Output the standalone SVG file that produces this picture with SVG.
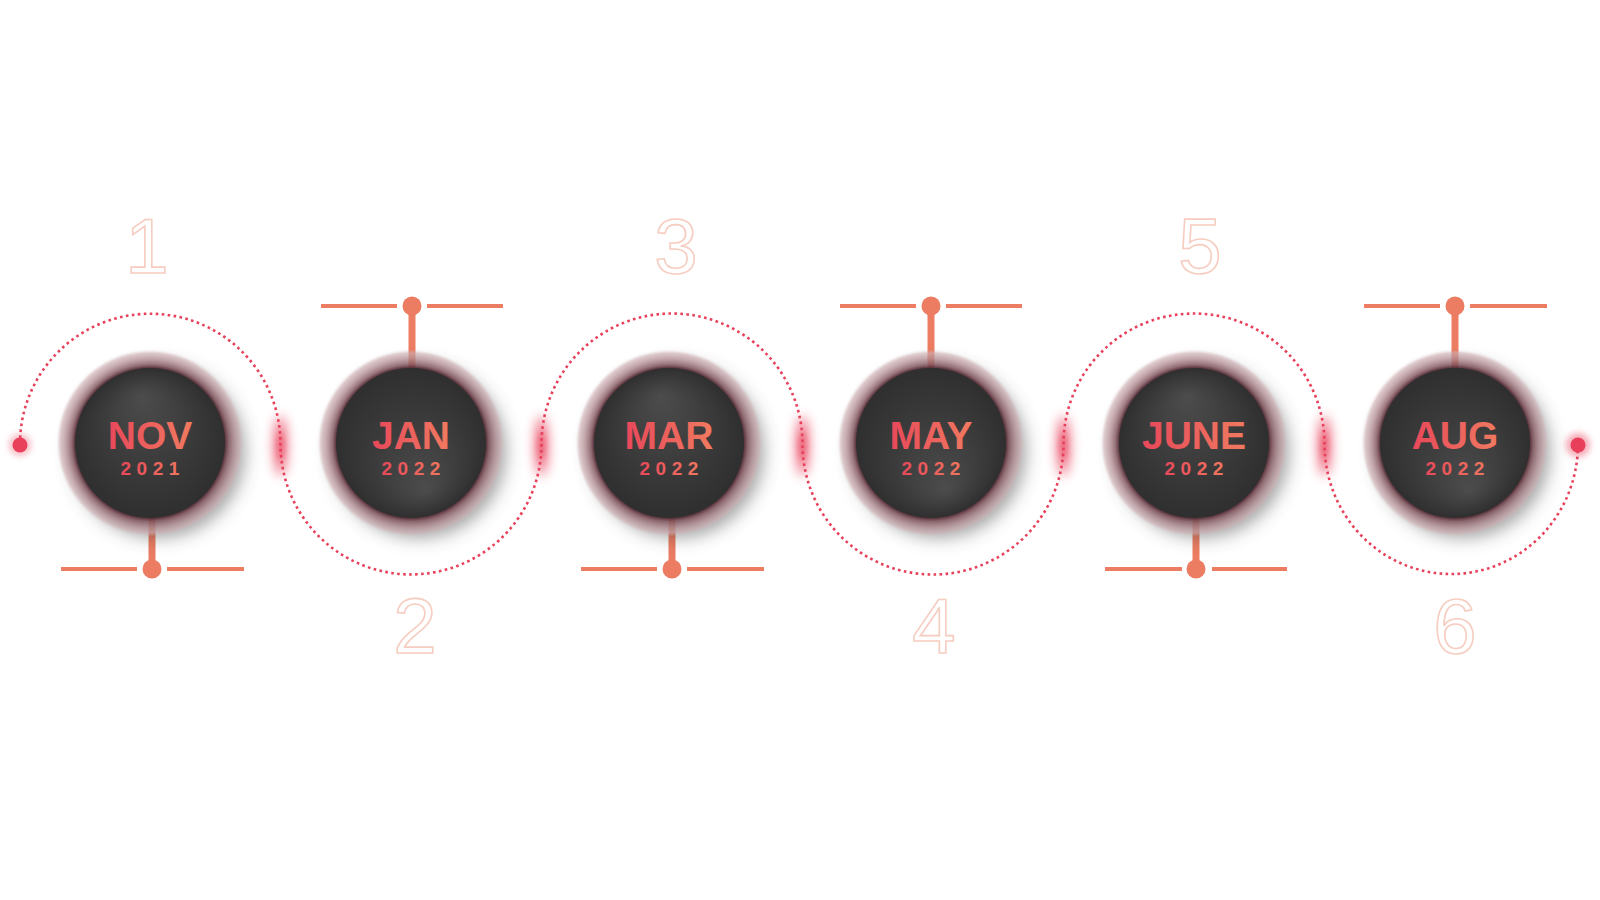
<svg xmlns="http://www.w3.org/2000/svg" width="1600" height="900" viewBox="0 0 1600 900">
  <defs>
    <style>
      .num { font-family: "Liberation Sans", Arial, sans-serif; font-size: 78px; font-weight: 400; fill: none; stroke: #f6cdc1; stroke-width: 1.6; text-anchor: middle; }
      .mon { font-family: "Liberation Sans", Arial, sans-serif; font-size: 39px; font-weight: 700; fill: url(#txt); text-anchor: middle; }
      .yr { font-family: "Liberation Sans", Arial, sans-serif; font-size: 19px; font-weight: 700; fill: url(#txt); text-anchor: middle; letter-spacing: 5.5px; }
      .stem { stroke: #ec7c62; stroke-width: 7; fill: none; }
      .bar { stroke: #ec7c62; stroke-width: 4; fill: none; }
      .pin { fill: #ec7c62; }
      .path { fill: none; stroke: #e8405a; stroke-width: 2.6; stroke-dasharray: 2.6 3.4; }
      .jglow { fill: #e8405a; filter: url(#blur6); opacity: 0.7; }
      .jcore { fill: #e8405a; filter: url(#blur3); opacity: 0.65; }
      .shadow { fill: #3a3a3a; opacity: 0.5; filter: url(#blur9); }
      .halo { fill: url(#haloG); filter: url(#blur1); }
    </style>
    <linearGradient id="txt" x1="0" y1="0" x2="1" y2="0">
      <stop offset="0" stop-color="#e8485a"/>
      <stop offset="1" stop-color="#f07a60"/>
    </linearGradient>
    <radialGradient id="haloG" cx="0.5" cy="0.5" r="0.5">
      <stop offset="0.815" stop-color="#4a2530" stop-opacity="0.95"/>
      <stop offset="0.85" stop-color="#84545d" stop-opacity="0.8"/>
      <stop offset="0.92" stop-color="#b48e95" stop-opacity="0.72"/>
      <stop offset="0.985" stop-color="#d0b2b7" stop-opacity="0.65"/>
      <stop offset="1" stop-color="#ddc3c7" stop-opacity="0.2"/>
    </radialGradient>
    <radialGradient id="discTop" cx="0.5" cy="0.5" r="0.5" fx="0.45" fy="0.18">
      <stop offset="0" stop-color="#4c4c4c"/>
      <stop offset="1" stop-color="#2f2f2f"/>
    </radialGradient>
    <radialGradient id="discBot" cx="0.5" cy="0.5" r="0.5" fx="0.6" fy="0.82">
      <stop offset="0" stop-color="#4c4c4c"/>
      <stop offset="1" stop-color="#2f2f2f"/>
    </radialGradient>
    <filter id="blur1" x="-20%" y="-20%" width="140%" height="140%"><feGaussianBlur stdDeviation="1"/></filter>
    <filter id="blur3" x="-200%" y="-100%" width="500%" height="300%"><feGaussianBlur stdDeviation="3"/></filter>
    <filter id="blur6" x="-300%" y="-60%" width="700%" height="220%"><feGaussianBlur stdDeviation="6"/></filter>
    <filter id="blur9" x="-30%" y="-30%" width="160%" height="160%"><feGaussianBlur stdDeviation="9"/></filter>
  </defs>

  <rect width="1600" height="900" fill="#ffffff"/>

  <g id="connectors">
    <ellipse class="jglow" cx="280.5" cy="446" rx="7" ry="30"/>
    <ellipse class="jglow" cx="541.5" cy="446" rx="7" ry="30"/>
    <ellipse class="jglow" cx="802.5" cy="446" rx="7" ry="30"/>
    <ellipse class="jglow" cx="1063.5" cy="446" rx="7" ry="30"/>
    <ellipse class="jglow" cx="1324.5" cy="446" rx="7" ry="30"/>
    <ellipse class="jcore" cx="280.5" cy="446" rx="3" ry="14"/>
    <ellipse class="jcore" cx="541.5" cy="446" rx="3" ry="14"/>
    <ellipse class="jcore" cx="802.5" cy="446" rx="3" ry="14"/>
    <ellipse class="jcore" cx="1063.5" cy="446" rx="3" ry="14"/>
    <ellipse class="jcore" cx="1324.5" cy="446" rx="3" ry="14"/>
    <path class="path" d="M20 444 A130.25 130.25 0 0 1 280.5 444 A130.5 130.5 0 0 0 541.5 444 A130.5 130.5 0 0 1 802.5 444 A130.5 130.5 0 0 0 1063.5 444 A130.5 130.5 0 0 1 1324.5 444 A126.75 130 0 0 0 1578 444"/>
    <circle cx="20" cy="445" r="11" fill="#e8405a" opacity="0.35" filter="url(#blur3)"/>
    <circle cx="20" cy="445" r="7.5" fill="#e8405a"/>
    <circle cx="1578" cy="445" r="12" fill="#e8405a" opacity="0.45" filter="url(#blur3)"/>
    <circle cx="1578" cy="445" r="7.5" fill="#e8405a"/>
  </g>

  <g id="node-nov">
    <line class="stem" x1="152" y1="569" x2="152" y2="505"/>
    <line class="bar" x1="61" y1="569" x2="137" y2="569"/>
    <line class="bar" x1="167" y1="569" x2="244" y2="569"/>
    <circle class="pin" cx="152" cy="569" r="9.5"/>
    <circle class="shadow" cx="158" cy="451" r="86"/>
    <circle class="halo" cx="150" cy="443" r="92"/>
    <circle cx="150" cy="443" r="75" fill="url(#discTop)"/>
    <text class="mon" x="150" y="449">NOV</text>
    <text class="yr" x="152.7" y="475">2021</text>
    <text class="num" x="147" y="273">1</text>
  </g>

  <g id="node-jan">
    <line class="stem" x1="412" y1="306" x2="412" y2="380"/>
    <line class="bar" x1="321" y1="306" x2="397" y2="306"/>
    <line class="bar" x1="427" y1="306" x2="503" y2="306"/>
    <circle class="pin" cx="412" cy="306" r="9.5"/>
    <circle class="shadow" cx="419" cy="451" r="86"/>
    <circle class="halo" cx="411" cy="443" r="92"/>
    <circle cx="411" cy="443" r="75" fill="url(#discBot)"/>
    <text class="mon" x="411" y="449">JAN</text>
    <text class="yr" x="413.7" y="475">2022</text>
    <text class="num" x="415" y="653">2</text>
  </g>

  <g id="node-mar">
    <line class="stem" x1="672" y1="569" x2="672" y2="505"/>
    <line class="bar" x1="581" y1="569" x2="657" y2="569"/>
    <line class="bar" x1="687" y1="569" x2="764" y2="569"/>
    <circle class="pin" cx="672" cy="569" r="9.5"/>
    <circle class="shadow" cx="677" cy="451" r="86"/>
    <circle class="halo" cx="669" cy="443" r="92"/>
    <circle cx="669" cy="443" r="75" fill="url(#discTop)"/>
    <text class="mon" x="669" y="449">MAR</text>
    <text class="yr" x="671.7" y="475">2022</text>
    <text class="num" x="676" y="273">3</text>
  </g>

  <g id="node-may">
    <line class="stem" x1="931" y1="306" x2="931" y2="380"/>
    <line class="bar" x1="840" y1="306" x2="916" y2="306"/>
    <line class="bar" x1="946" y1="306" x2="1022" y2="306"/>
    <circle class="pin" cx="931" cy="306" r="9.5"/>
    <circle class="shadow" cx="939" cy="451" r="86"/>
    <circle class="halo" cx="931" cy="443" r="92"/>
    <circle cx="931" cy="443" r="75" fill="url(#discBot)"/>
    <text class="mon" x="931" y="449">MAY</text>
    <text class="yr" x="933.7" y="475">2022</text>
    <text class="num" x="934" y="653">4</text>
  </g>

  <g id="node-june">
    <line class="stem" x1="1196" y1="569" x2="1196" y2="505"/>
    <line class="bar" x1="1105" y1="569" x2="1182" y2="569"/>
    <line class="bar" x1="1212" y1="569" x2="1287" y2="569"/>
    <circle class="pin" cx="1196" cy="569" r="9.5"/>
    <circle class="shadow" cx="1202" cy="451" r="86"/>
    <circle class="halo" cx="1194" cy="443" r="92"/>
    <circle cx="1194" cy="443" r="75" fill="url(#discTop)"/>
    <text class="mon" x="1194" y="449">JUNE</text>
    <text class="yr" x="1196.7" y="475">2022</text>
    <text class="num" x="1200" y="273">5</text>
  </g>

  <g id="node-aug">
    <line class="stem" x1="1455" y1="306" x2="1455" y2="380"/>
    <line class="bar" x1="1364" y1="306" x2="1440" y2="306"/>
    <line class="bar" x1="1470" y1="306" x2="1547" y2="306"/>
    <circle class="pin" cx="1455" cy="306" r="9.5"/>
    <circle class="shadow" cx="1463" cy="451" r="86"/>
    <circle class="halo" cx="1455" cy="443" r="92"/>
    <circle cx="1455" cy="443" r="75" fill="url(#discBot)"/>
    <text class="mon" x="1455" y="449">AUG</text>
    <text class="yr" x="1457.7" y="475">2022</text>
    <text class="num" x="1455" y="653">6</text>
  </g>
</svg>
